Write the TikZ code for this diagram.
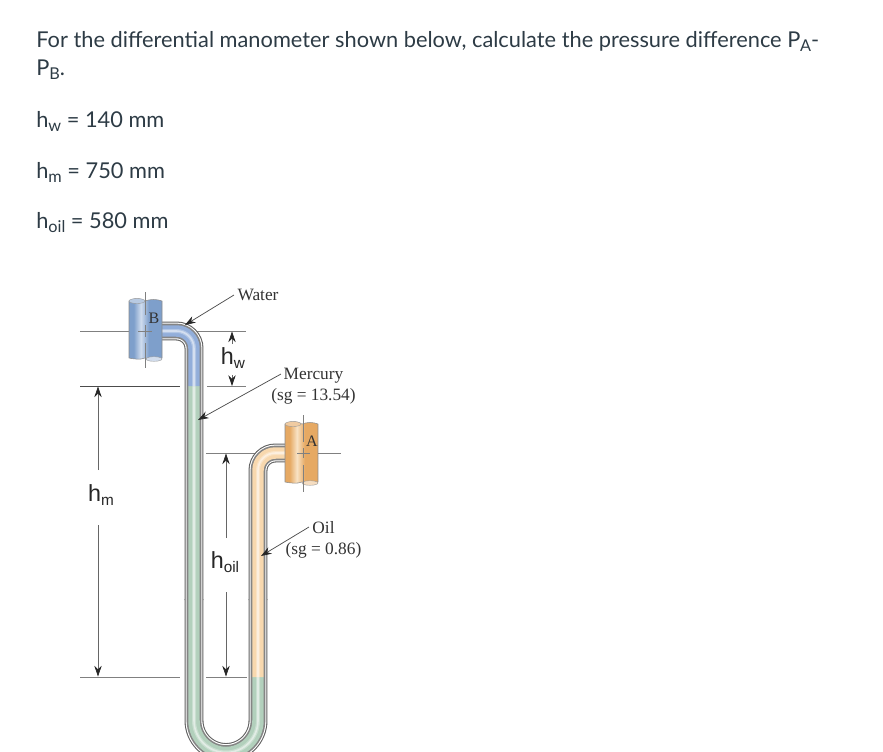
\documentclass[tikz,border=0pt]{standalone}
\usepackage{fontspec}
\setmainfont{Lato}
\newfontfamily\labelfont{Liberation Serif}
\newfontfamily\symfont{Liberation Sans}
\usepackage{xcolor}
\usetikzlibrary{arrows.meta}

\definecolor{textgray}{HTML}{2D3B45}
\definecolor{waterblue}{HTML}{92AEDA}
\definecolor{mercurygreen}{HTML}{B2D0BC}
\definecolor{oilpeach}{HTML}{F8D8AE}
\definecolor{pipeblue}{HTML}{7E9FCB}
\definecolor{pipebluelight}{HTML}{CFDCEE}
\definecolor{pipeorange}{HTML}{E6A963}
\definecolor{pipeorangelight}{HTML}{F8E2C4}

\pgfdeclarehorizontalshading{bluepipe}{100bp}{color(0bp)=(pipeblue); color(32bp)=(pipeblue); color(43bp)=(pipebluelight); color(55bp)=(pipeblue); color(100bp)=(pipeblue)}
\pgfdeclarehorizontalshading{orangepipe}{100bp}{color(0bp)=(pipeorange); color(32bp)=(pipeorange); color(43bp)=(pipeorangelight); color(55bp)=(pipeorange); color(100bp)=(pipeorange)}

\newcommand{\lowtext}[1]{\raisebox{-.4ex}{\fontsize{12.2}{13}\selectfont #1}}
\newcommand{\hlabel}[1]{\symfont\fontsize{17.5}{18}\selectfont h\raisebox{-.35ex}{\fontsize{11.5}{12}\selectfont #1}}

\tikzset{
  question/.style={anchor=base west,inner sep=0pt,text=textgray,font=\fontsize{16.35}{18}\selectfont},
  figtext/.style={inner sep=1pt,align=center,text=black!80,font=\labelfont\fontsize{13}{16}\selectfont},
  pipename/.style={inner sep=0pt,text=black!80,font=\labelfont\fontsize{12}{12}\selectfont},
  hname/.style={inner sep=2pt,text=black!85},
  thin line/.style={draw=black!50,line width=.55pt},
  level line/.style={draw=black!70,line width=.7pt},
  leader/.style={draw=black!70,line width=.55pt,-{Stealth[length=8pt,width=5.5pt,color=black!85]}},
  dim/.style={draw=black!60,line width=.5pt,-{Stealth[length=8pt,width=5.5pt,color=black!85]}},
  tube wall/.style={draw=black!62,line width=14.2pt},
  tube gap/.style={draw=white,line width=12.6pt},
  tube rim/.style={draw=black!48,line width=11pt},
  fluid/.style={line width=8.6pt},
  shine/.style={draw=white,line width=3pt,opacity=.3},
  shine core/.style={draw=white,line width=1.2pt,opacity=.45},
}

\begin{document}
\begin{tikzpicture}[x=.75pt,y=-.75pt]
  \useasboundingbox (0,0) rectangle (883,751);
  \clip (0,0) rectangle (883,751);

  % question text
  \node[question] (line1) at (36,47) {For the differential manometer shown below, calculate the pressure difference P\lowtext{A}-};
  \node[question] (line2) at (36,75) {P\lowtext{B}.};
  \node[question] (hwval) at (36,127) {h\lowtext{w} = 140 mm};
  \node[question] (hmval) at (36,178) {h\lowtext{m} = 750 mm};
  \node[question] (hoilval) at (36,228) {h\lowtext{oil} = 580 mm};

  % level lines
  \coordinate (bleft) at (80,331);
  \coordinate (bright) at (246,331);
  \coordinate (mleft) at (80,386);
  \coordinate (mstop) at (180,386);
  \coordinate (wleft) at (207,386.5);
  \coordinate (wright) at (246,386.5);
  \coordinate (aleft) at (206,453);
  \coordinate (aright) at (341,453);
  \coordinate (lowleft) at (80,677);
  \coordinate (lowstop) at (180,677);
  \coordinate (lowmid) at (206,677);
  \coordinate (lowright) at (247,677);
  \draw[thin line] (bleft) -- (bright);
  \draw[level line] (mleft) -- (mstop);
  \draw[thin line] (wleft) -- (wright);
  \draw[thin line] (aleft) -- (aright);
  \draw[thin line] (lowleft) -- (lowstop);
  \draw[thin line] (lowmid) -- (lowright);

  % the tube
  \begin{scope}[rounded corners=13pt]
    \draw[tube wall] (162,331) -- (194,331) -- (194,600);
    \draw[tube gap] (162,331) -- (194,331) -- (194,600);
    \draw[tube rim] (162,331) -- (194,331) -- (194,600);
    \draw[tube wall] (258,600) -- (258,453) -- (286,453);
    \draw[tube gap] (258,600) -- (258,453) -- (286,453);
    \draw[tube rim] (258,600) -- (258,453) -- (286,453);
  \end{scope}
  \begin{scope}[rounded corners=24pt]
    \draw[tube wall] (194,599) -- (194,752.5) -- (258,752.5) -- (258,599);
    \draw[tube gap] (194,599) -- (194,752.5) -- (258,752.5) -- (258,599);
    \draw[tube rim] (194,599) -- (194,752.5) -- (258,752.5) -- (258,599);
    \draw[fluid,draw=mercurygreen] (194,386) -- (194,752.5) -- (258,752.5) -- (258,677);
    \draw[shine] (194,386) -- (194,752.5) -- (258,752.5) -- (258,677);
    \draw[shine core] (194,386) -- (194,752.5) -- (258,752.5) -- (258,677);
  \end{scope}
  \begin{scope}[rounded corners=13pt]
    \draw[fluid,draw=waterblue] (162,331) -- (194,331) -- (194,386);
    \draw[shine] (162,331) -- (194,331) -- (194,386);
    \draw[shine core] (162,331) -- (194,331) -- (194,386);
    \draw[fluid,draw=oilpeach] (258,677) -- (258,453) -- (286,453);
    \draw[shine] (258,677) -- (258,453) -- (286,453);
    \draw[shine core] (258,677) -- (258,453) -- (286,453);
  \end{scope}

  % pipe B
  \shade[shading=bluepipe,draw=black!45,line width=.4pt]
    (129,301) .. controls (134,298) and (140,298) .. (145,301) .. controls (150,299) and (157,299) .. (162,301)
    -- (162,358) .. controls (157,361) and (150,361) .. (145,358) .. controls (140,360) and (134,359) .. (129,358) -- cycle;
  \fill[pipeblue!55,draw=black!40,line width=.3pt] (137,301) ellipse [x radius=8,y radius=2.5];
  \fill[pipeblue!35,draw=black!40,line width=.3pt] (154,359) ellipse [x radius=8,y radius=2.3];
  \draw[thin line] (145,292) -- (145,315);
  \draw[thin line] (145,325) -- (145,337);
  \draw[thin line] (145,343) -- (145,368);
  \draw[thin line] (138,331) -- (152,331);
  \node[pipename] (bname) at (154,318) {B};

  % pipe A
  \shade[shading=orangepipe,draw=black!45,line width=.4pt]
    (285,424) .. controls (290,421) and (297,421) .. (302,424) .. controls (307,422) and (313,422) .. (318,424)
    -- (318,482) .. controls (313,485) and (307,485) .. (302,482) .. controls (297,484) and (290,483) .. (285,482) -- cycle;
  \fill[pipeorange!60,draw=black!40,line width=.3pt] (293,424) ellipse [x radius=8,y radius=2.5];
  \fill[pipeorange!40,draw=black!40,line width=.3pt] (310,483) ellipse [x radius=8,y radius=2.3];
  \draw[thin line] (303,415) -- (303,442);
  \draw[thin line] (303,448) -- (303,458);
  \draw[thin line] (303,465) -- (303,492);
  \draw[thin line] (297,453) -- (310,453);
  \draw[thin line] (318,453) -- (341,453);
  \node[pipename] (aname) at (312,441) {A};

  % dimensions
  \node[hname] (hw) at (233,358) {\hlabel{w}};
  \node[hname] (hm) at (101,495) {\hlabel{m}};
  \node[hname] (hoil) at (225,562) {\hlabel{oil}};
  \coordinate (hwup) at (232,331.5);
  \coordinate (hwdown) at (232,386);
  \coordinate (hmup) at (98,386.5);
  \coordinate (hmdown) at (98,676.5);
  \coordinate (hoilup) at (226,453.5);
  \coordinate (hoildown) at (226,676.5);
  \coordinate (hwa) at (232,344);
  \coordinate (hwb) at (232,375);
  \coordinate (hma) at (98,470);
  \coordinate (hmb) at (98,525);
  \coordinate (hoila) at (226,538);
  \coordinate (hoilb) at (226,592);
  \draw[dim] (hwa) -- (hwup);
  \draw[dim] (hwb) -- (hwdown);
  \draw[dim] (hma) -- (hmup);
  \draw[dim] (hmb) -- (hmdown);
  \draw[dim] (hoila) -- (hoilup);
  \draw[dim] (hoilb) -- (hoildown);

  % fluids
  \node[figtext] (water) at (258,295) {Water};
  \node[figtext] (mercury) at (313.5,386.5) {Mercury\\(sg = 13.54)};
  \node[figtext] (oil) at (323.5,540) {Oil\\(sg = 0.86)};
  \coordinate (waterend) at (185,325);
  \coordinate (mercuryend) at (198,420);
  \coordinate (oilend) at (261,556);
  \coordinate (waterstart) at (234,295);
  \coordinate (mercurystart) at (281,374);
  \coordinate (oilstart) at (309,527);
  \draw[leader] (waterstart) -- (waterend);
  \draw[leader] (mercurystart) -- (mercuryend);
  \draw[leader] (oilstart) -- (oilend);
\end{tikzpicture}
\end{document}
